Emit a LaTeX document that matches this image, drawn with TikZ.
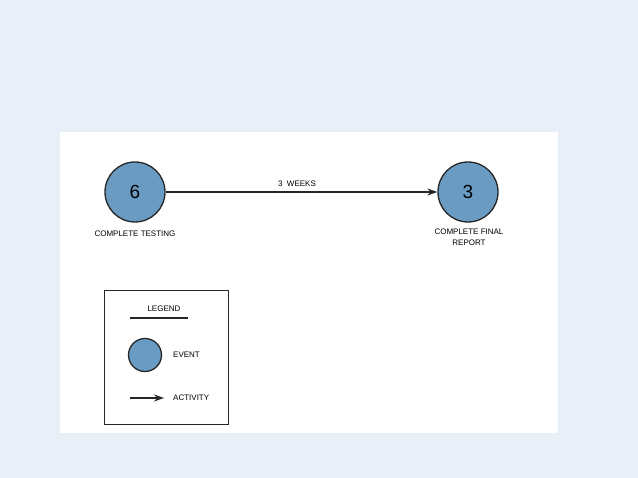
\documentclass[tikz,border=0pt]{standalone}
\usepackage{fontspec}
\setmainfont{Liberation Sans}
\usetikzlibrary{arrows.meta}
\definecolor{bgblue}{HTML}{E9EFF7}
\definecolor{evfill}{HTML}{6A9CC3}
\begin{document}
\begin{tikzpicture}[x=1pt,y=-1pt,
  event/.style={circle,draw=black!85,line width=1.3pt,fill=evfill,inner sep=0pt},
  lbl/.style={font=\fontsize{8}{11}\selectfont,align=center,inner sep=0pt},
  act/.style={-{Stealth[length=10pt,width=7pt]},line width=1.2pt,black!85}]
\fill[bgblue] (0,0) rectangle (638,478);
\useasboundingbox (0,0) rectangle (638,478);
\fill[white] (60,132) rectangle (558,433);
\node[event,minimum size=60pt,font=\fontsize{19}{21}\selectfont] (e6) at (135,192) {6};
\node[event,minimum size=60pt,font=\fontsize{19}{21}\selectfont] (e3) at (468,192) {3};
\draw[act] (e6) -- (e3);
\node[lbl] (w) at (297,184) {3~ WEEKS};
\node[lbl] (t6) at (135,234) {COMPLETE TESTING};
\node[lbl,anchor=north] (t3) at (469,229) {COMPLETE FINAL\\REPORT};
\node[draw=black!85,line width=1.3pt,minimum width=124pt,minimum height=134pt,anchor=north west] (leg) at (104,290) {};
\node[lbl] (lt) at (164,309) {LEGEND};
\coordinate (u1) at (130,318); \coordinate (u2) at (188,318);
\draw[line width=1.5pt,black!85] (u1) -- (u2);
\node[event,minimum size=33pt] (le) at (145,355) {};
\node[lbl,anchor=west] (lev) at (173,355) {EVENT};
\coordinate (a1) at (130,398); \coordinate (a2) at (164,398);
\draw[act] (a1) -- (a2);
\node[lbl,anchor=west] (lac) at (173,398) {ACTIVITY};
\end{tikzpicture}
\end{document}
